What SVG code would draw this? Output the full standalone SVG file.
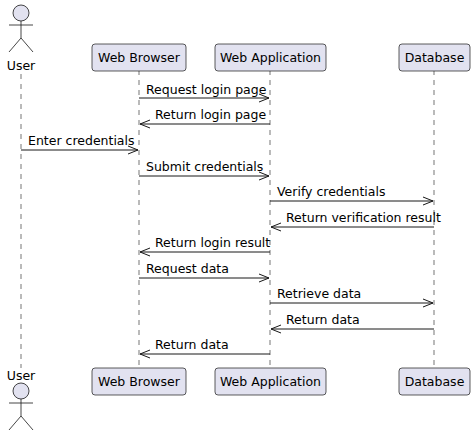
<svg xmlns="http://www.w3.org/2000/svg" width="474" height="439" viewBox="0 0 474 439">
<style>
text{font-family:"DejaVu Sans",sans-serif;font-size:12.5px;fill:#000}
.box{fill:#E2E2F0;stroke:#181818;stroke-width:0.7}
.life{stroke:#181818;stroke-width:0.6;stroke-dasharray:5,5}
.act{fill:none;stroke:#181818;stroke-width:0.8}
.msg{stroke:#181818;stroke-width:1;fill:none}
</style>
<g id="lifelines">
<line class="life" x1="21" y1="74" x2="21" y2="368"/>
<line class="life" x1="139" y1="70" x2="139" y2="368"/>
<line class="life" x1="270" y1="70" x2="270" y2="368"/>
<line class="life" x1="434" y1="70" x2="434" y2="368"/>
</g>
<g id="user-top">
<circle cx="21" cy="13" r="8" fill="#E2E2F0" stroke="#181818" stroke-width="0.8"/>
<path class="act" d="M21 21V38M9 25H33M9 52L21 38L33 52"/>
<text x="21" y="70" text-anchor="middle" font-size="14">User</text>
</g>
<g id="user-bottom">
<text x="21" y="380" text-anchor="middle" font-size="14">User</text>
<circle cx="21" cy="391" r="8" fill="#E2E2F0" stroke="#181818" stroke-width="0.8"/>
<path class="act" d="M21 399V416M9 403H33M9 430L21 416L33 430"/>
</g>
<g id="browser-top"><rect class="box" x="92" y="44" width="94" height="27" rx="3"/><text x="139" y="62" text-anchor="middle">Web Browser</text></g>
<g id="browser-bottom"><rect class="box" x="92" y="368" width="94" height="27" rx="3"/><text x="139" y="386" text-anchor="middle">Web Browser</text></g>
<g id="app-top"><rect class="box" x="215" y="44" width="111" height="27" rx="3"/><text x="270.5" y="62" text-anchor="middle">Web Application</text></g>
<g id="app-bottom"><rect class="box" x="215" y="368" width="111" height="27" rx="3"/><text x="270.5" y="386" text-anchor="middle">Web Application</text></g>
<g id="db-top"><rect class="box" x="399" y="44" width="71" height="27" rx="3"/><text x="434.5" y="62" text-anchor="middle">Database</text></g>
<g id="db-bottom"><rect class="box" x="399" y="368" width="71" height="27" rx="3"/><text x="434.5" y="386" text-anchor="middle">Database</text></g>
<g id="connectors">
<path class="msg" d="M139 98H269M259 94L269 98L259 102"/>
<text x="146" y="94">Request login page</text>
<path class="msg" d="M270 124H140M150 120L140 124L150 128"/>
<text x="155" y="119">Return login page</text>
<path class="msg" d="M21 150H138M128 146L138 150L128 154"/>
<text x="28" y="145">Enter credentials</text>
<path class="msg" d="M139 176H269M259 172L269 176L259 180"/>
<text x="146" y="171">Submit credentials</text>
<path class="msg" d="M270 201H433M423 197L433 201L423 205"/>
<text x="277" y="196">Verify credentials</text>
<path class="msg" d="M434 227H271M281 223L271 227L281 231"/>
<text x="286" y="222">Return verification result</text>
<path class="msg" d="M270 252H140M150 248L140 252L150 256"/>
<text x="155" y="247">Return login result</text>
<path class="msg" d="M139 278H269M259 274L269 278L259 282"/>
<text x="146" y="273">Request data</text>
<path class="msg" d="M270 303H433M423 299L433 303L423 307"/>
<text x="277" y="298">Retrieve data</text>
<path class="msg" d="M434 329H271M281 325L271 329L281 333"/>
<text x="286" y="324">Return data</text>
<path class="msg" d="M270 354H140M150 350L140 354L150 358"/>
<text x="155" y="349">Return data</text>
</g>
</svg>
